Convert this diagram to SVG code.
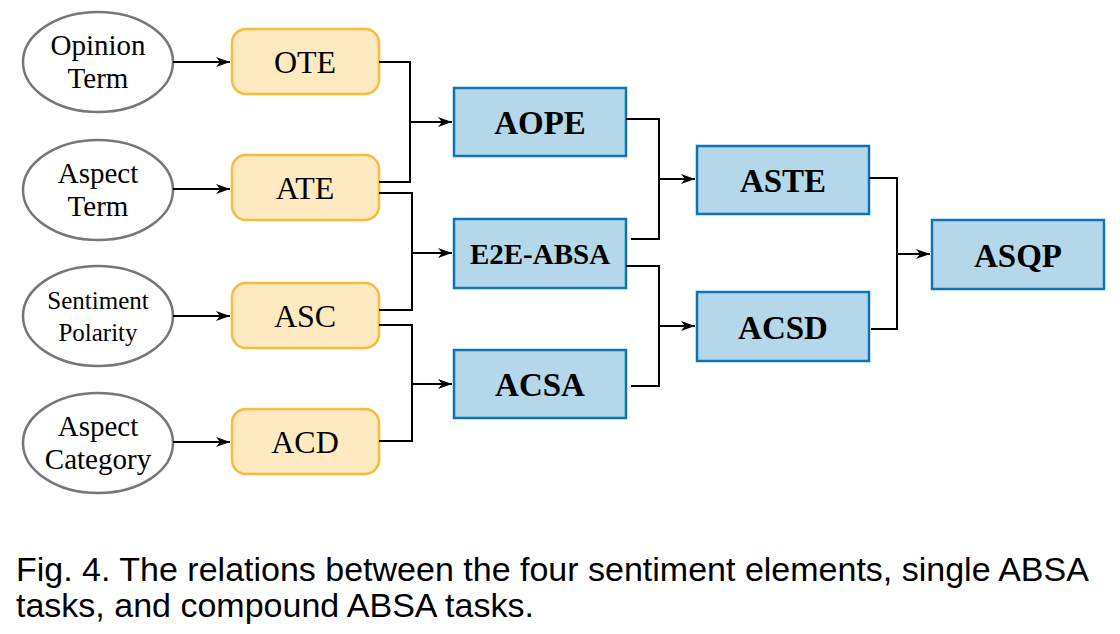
<svg xmlns="http://www.w3.org/2000/svg" width="1120" height="634" viewBox="0 0 1120 634">
<defs>
<marker id="ah" markerWidth="14" markerHeight="10" refX="14" refY="5" orient="auto" markerUnits="userSpaceOnUse"><path d="M0,0 L14,5 L0,10 L4,5 Z" fill="#000"/></marker>
<style>
.el{fill:#fff;stroke:#777;stroke-width:2.5}
.y{fill:#fee9c0;stroke:#f9bb3a;stroke-width:2.5}
.b{fill:#b4d8ea;stroke:#0c75b8;stroke-width:2.5}
.t{font-family:"Liberation Serif","Times New Roman",serif;font-size:29px;text-anchor:middle;fill:#000}
.n{font-size:32px}
.bt{font-family:"Liberation Serif","Times New Roman",serif;font-size:33px;font-weight:bold;text-anchor:middle;fill:#000}
.c{fill:none;stroke:#000;stroke-width:2}
.cap{font-family:"Liberation Sans",Arial,sans-serif;font-size:34px;fill:#000}
</style>
</defs>
<g id="n-opinion"><ellipse class="el" cx="98" cy="62" rx="75" ry="50"/><text class="t" x="98" y="55">Opinion</text><text class="t" x="98" y="88">Term</text></g>
<g id="n-aspectterm"><ellipse class="el" cx="98" cy="190" rx="75" ry="50"/><text class="t" x="98" y="183">Aspect</text><text class="t" x="98" y="216">Term</text></g>
<g id="n-polarity"><ellipse class="el" cx="98" cy="316" rx="75" ry="50"/><text class="t" x="98" y="309" style="font-size:25px">Sentiment</text><text class="t" x="98" y="341" style="font-size:25px">Polarity</text></g>
<g id="n-category"><ellipse class="el" cx="98" cy="443" rx="75" ry="50"/><text class="t" x="98" y="436">Aspect</text><text class="t" x="98" y="469">Category</text></g>
<g id="n-ote"><rect class="y" x="232" y="29" width="147" height="65" rx="14"/><text class="t n" x="305" y="73">OTE</text></g>
<g id="n-ate"><rect class="y" x="232" y="155" width="147" height="65" rx="14"/><text class="t n" x="305" y="199">ATE</text></g>
<g id="n-asc"><rect class="y" x="232" y="283" width="147" height="65" rx="14"/><text class="t n" x="305" y="327">ASC</text></g>
<g id="n-acd"><rect class="y" x="232" y="409" width="147" height="65" rx="14"/><text class="t n" x="305" y="453">ACD</text></g>
<g id="n-aope"><rect class="b" x="454" y="88" width="172" height="68"/><text class="bt" x="540" y="134">AOPE</text></g>
<g id="n-e2e"><rect class="b" x="454" y="219" width="172" height="69"/><text class="bt" x="540" y="264" style="font-size:29px">E2E-ABSA</text></g>
<g id="n-acsa"><rect class="b" x="454" y="350" width="172" height="68"/><text class="bt" x="540" y="396">ACSA</text></g>
<g id="n-aste"><rect class="b" x="697" y="146" width="172" height="68"/><text class="bt" x="783" y="192">ASTE</text></g>
<g id="n-acsd"><rect class="b" x="697" y="292" width="172" height="69"/><text class="bt" x="783" y="339">ACSD</text></g>
<g id="n-asqp"><rect class="b" x="932" y="220" width="172" height="69"/><text class="bt" x="1018" y="267">ASQP</text></g>
<g id="connectors">
<path class="c" d="M173,62 H230" marker-end="url(#ah)"/>
<path class="c" d="M173,189 H230" marker-end="url(#ah)"/>
<path class="c" d="M173,316 H230" marker-end="url(#ah)"/>
<path class="c" d="M173,442 H230" marker-end="url(#ah)"/>
<path class="c" d="M379,62 H410 V182 H379"/>
<path class="c" d="M410,122 H452" marker-end="url(#ah)"/>
<path class="c" d="M379,193 H412 V310 H379"/>
<path class="c" d="M412,253 H452" marker-end="url(#ah)"/>
<path class="c" d="M379,325 H412 V441 H379"/>
<path class="c" d="M412,384 H452" marker-end="url(#ah)"/>
<path class="c" d="M626,119 H659 V239 H631"/>
<path class="c" d="M659,179 H695" marker-end="url(#ah)"/>
<path class="c" d="M626,266 H659 V386 H631"/>
<path class="c" d="M659,326 H695" marker-end="url(#ah)"/>
<path class="c" d="M869,178 H897 V329 H871"/>
<path class="c" d="M897,254 H930" marker-end="url(#ah)"/>
</g>
<text class="cap" x="16" y="581">Fig. 4. The relations between the four sentiment elements, single ABSA</text>
<text class="cap" x="16" y="617">tasks, and compound ABSA tasks.</text>
</svg>
